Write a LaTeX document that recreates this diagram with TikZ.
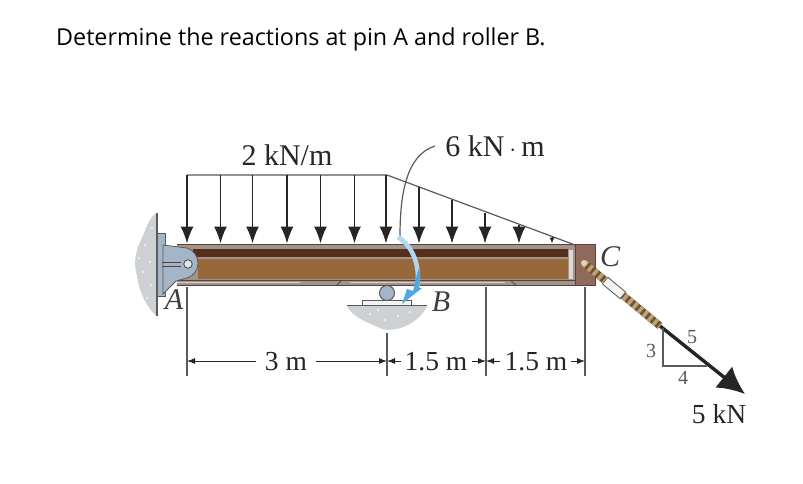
\documentclass[tikz,border=0pt]{standalone}
\usepackage{fontspec}
\setmainfont{Liberation Serif}
\newfontfamily\titlefont{Open Sans}
\usetikzlibrary{arrows.meta}
\definecolor{inkc}{HTML}{262626}
\definecolor{dimc}{HTML}{5A5A5A}
\definecolor{rockc}{HTML}{CDD1D3}
\definecolor{steelc}{HTML}{A3B5C6}
\definecolor{flangec}{HTML}{A3938A}
\definecolor{edgec}{HTML}{54443C}
\definecolor{darkbr}{HTML}{55301F}
\definecolor{webbr}{HTML}{96683A}
\definecolor{platec}{HTML}{8F6A5B}
\definecolor{bluec}{HTML}{4FA8E2}
\definecolor{ropec}{HTML}{6E5433}
\definecolor{ropel}{HTML}{BFA27A}
\tikzset{
  load/.style={draw=inkc,line width=1.6pt,-{Latex[length=17pt,width=13pt]}},
  loadline/.style={draw=dimc,line width=1.2pt},
  extline/.style={draw=dimc,line width=1.2pt},
  dimline/.style={draw=inkc,line width=1pt,-{Latex[length=8pt,width=6pt]}},
  lab/.style={inner sep=0pt,font=\fontsize{30}{34}\selectfont,text=inkc},
  smalllab/.style={inner sep=0pt,font=\fontsize{20}{24}\selectfont,text=dimc},
  dimlab/.style={inner sep=0pt,font=\fontsize{27.5}{32}\selectfont,text=inkc},
  letter/.style={inner sep=0pt,font=\fontsize{30}{34}\selectfont\itshape,text=dimc!70!black},
}
\begin{document}
\begin{tikzpicture}[x=1pt,y=-1pt]
\useasboundingbox (0,0) rectangle (803,484);
\fill[white] (0,0) rectangle (803,484);
\node[inner sep=0pt,anchor=west,text=black,font=\titlefont\fontsize{23.3}{28}\selectfont] (title) at (56,39.5) {Determine the reactions at pin A and roller B.};
% wall
\fill[rockc] (157,213) .. controls (150,216) and (146,228) .. (141,240) .. controls (136,250) and (133,262) .. (137,276) .. controls (139,292) and (148,310) .. (157,316) -- cycle;
\foreach \p in {(145,245),(150,262),(143,272),(151,285),(147,298),(152,228),(139,258)}
  \fill[white!85!rockc] \p circle (1.1pt);
% ground
\fill[rockc] (347,306) .. controls (352,318) and (372,324) .. (382,329) .. controls (398,333) and (420,322) .. (427,306) -- cycle;
\foreach \p in {(370,314),(385,320),(398,316),(410,312),(378,310)}
  \fill[white!85!rockc] \p circle (1.1pt);
% beam
\fill[flangec] (177,244) rectangle (575,285);
\fill[darkbr] (193,249) rectangle (568,256.5);
\fill[webbr] (198,258.5) rectangle (568,279);
\fill[white!65!flangec] (569,250) rectangle (573,279);
\draw[edgec,line width=.9pt] (177,244) -- (575,244) (177,285) -- (575,285) (177,280) -- (575,280);
\draw[white!55!flangec,line width=1pt] (177,282.5) -- (300,282.5) (350,282.5) -- (505,282.5);
\draw[edgec,line width=.8pt] (337,285) -- (342,280) (510,280) -- (516,285);
% plate
\fill[platec,draw=edgec,line width=.8pt] (575,244) rectangle (595,285);
% bracket
\fill[steelc,draw=dimc,line width=.8pt] (157,233) rectangle (165,296);
\fill[steelc,draw=dimc,line width=.8pt] (163,245) -- (187,248) .. controls (194,250) and (198,257) .. (198,263) .. controls (198,270) and (194,276) .. (187,278) -- (176,281) -- (163,294) -- cycle;
\draw[edgec,line width=1pt] (162,262) -- (181,262) (162,266) -- (181,266);
\draw[dimc,line width=1.6pt] (157,213) -- (157,316);
\node[circle,draw=dimc,fill=white!70!steelc,line width=1pt,minimum size=8.5pt,inner sep=0pt] (pinA) at (188,264) {};
% load
\coordinate (lt0) at (187,175);\coordinate (lt1) at (387,175);\coordinate (lt2) at (575,245);
\draw[loadline] (lt0) -- (lt1) -- (lt2);
\foreach \x in {187,220.5,252.5,287,320.5,354.5,386}
  \draw[load] (\x,175) -- (\x,243.5);
\draw[load] (419,187) -- (419,243.5);
\draw[load] (452,200) -- (452,243.5);
\draw[load] (485,213) -- (485,243.5);
\draw[load] (519,225) -- (519,243.5);
\draw[draw=inkc,line width=1pt,-{Latex[length=6pt,width=5pt]}] (552,237) -- (552,243.5);
% roller support
\draw[dimc,fill=white!92!dimc,line width=1pt] (362,305) -- (362,300) -- (411,300) -- (411,305);
\node[circle,draw=dimc,fill=steelc,line width=1pt,minimum size=15pt,inner sep=0pt] (roller) at (387,293) {};
\draw[dimc,line width=1.2pt] (347,305.5) -- (427,305.5);
% moment
\coordinate (callE) at (435,146);
\draw[dimc,line width=1.2pt] (400,236) .. controls (400,195) and (406,155) .. (callE);
\draw[bluec!45!white,line width=4.5pt] (398,237) .. controls (412,246) and (421,264) .. (417,290);
\fill[bluec] (422,288) -- (402,304) -- (407,289) -- (413,291) .. controls (416,280) and (417,272) .. (419,268) .. controls (421,275) and (420,282) .. (419,288) -- cycle;
% labels
\node[lab] (w) at (287,155) {2 kN/m};
\node[lab] (M) at (495,146) {6 kN\,$\cdot$\,m};
\node[letter] (A) at (174,300) {A};
\node[letter] (B) at (441,302) {B};
\node[letter] (C) at (610,257) {C};
% dimension lines
\coordinate (a1) at (187,287);\coordinate (a2) at (187,376);
\coordinate (b1) at (387,333);\coordinate (b2) at (387,376);
\coordinate (c1) at (486,287);\coordinate (c2) at (486,376);
\coordinate (d1) at (585,287);\coordinate (d2) at (585,376);
\draw[extline] (a1) -- (a2); \draw[extline] (b1) -- (b2); \draw[extline] (c1) -- (c2); \draw[extline] (d1) -- (d2);
\node[dimlab] (d3) at (286,361.5) {3 m};
\node[dimlab] (e1) at (436,361.5) {1.5 m};
\node[dimlab] (e2) at (536,361.5) {1.5 m};
\draw[dimline] (256,361) -- (187,361);
\draw[dimline] (316,361) -- (387,361);
\draw[dimline] (401,361) -- (387,361);
\draw[dimline] (472,361) -- (486,361);
\draw[dimline] (500,361) -- (486,361);
\draw[dimline] (571,361) -- (585,361);
% cable
\coordinate (cs) at (584,263);\coordinate (ce) at (660,326);\coordinate (tip) at (745,394);
\draw[inkc,line width=3.4pt,-{Latex[length=27pt,width=27pt]}] (ce) -- (tip);
\draw[ropec,line width=7.5pt] (cs) -- (ce);
\draw[ropel,line width=7.5pt,dash pattern=on 3.5pt off 3pt] (cs) -- (ce);
\draw[dimc,line width=9.5pt] (605,280.5) -- (623,295.5);
\draw[white!93!dimc,line width=7.5pt] (605.5,281) -- (622.5,295);
\fill[white!50!ropel] (584,263) circle (3pt);
% slope triangle
\coordinate (t1) at (663,328);\coordinate (t2) at (663,366);\coordinate (t3) at (707,366);
\draw[dimc,line width=1.2pt] (t1) -- (t2) -- (t3);
\node[smalllab] (n3) at (651,351) {3};
\node[smalllab] (n4) at (683,378) {4};
\node[smalllab] (n5) at (692,337) {5};
\node[dimlab] (f) at (719,414) {5 kN};
\end{tikzpicture}
\end{document}
